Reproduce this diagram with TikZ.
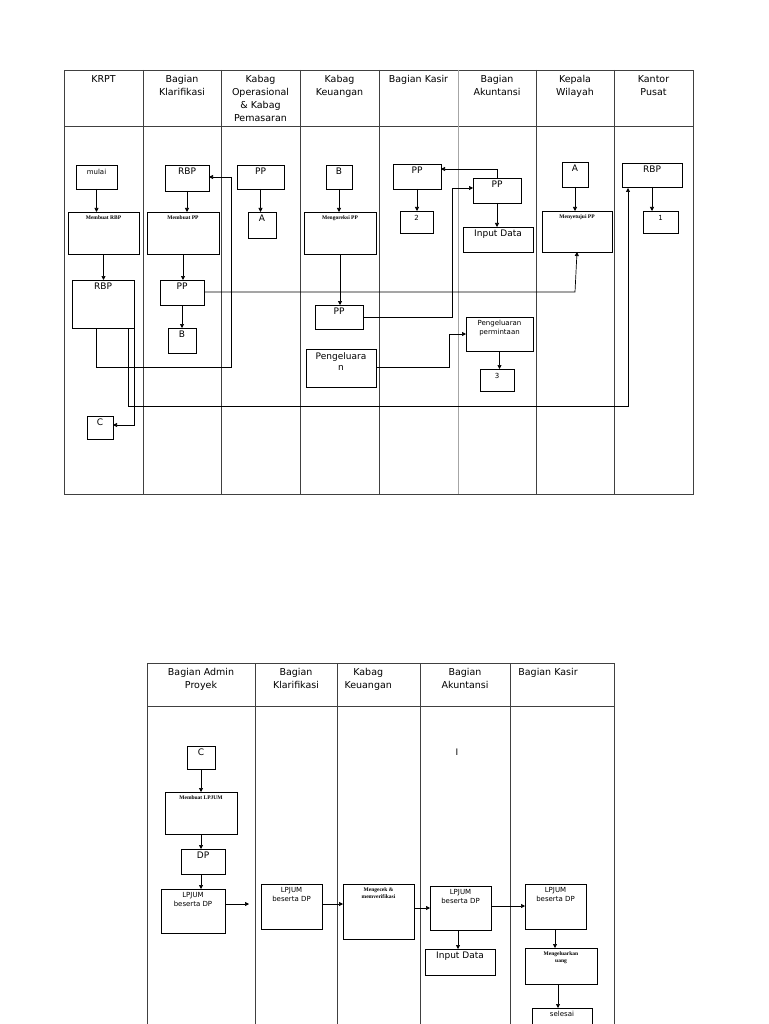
\documentclass[tikz,border=0pt]{standalone}
\usepackage{fontspec}
\setmainfont{DejaVu Sans}
\newfontfamily\serifb{Liberation Serif}
\usetikzlibrary{arrows.meta}
\begin{document}
\begin{tikzpicture}[x=1pt,y=-1pt,
  grid/.style={draw=black!75,line width=0.6pt},
  lgrid/.style={draw=black!35,line width=0.6pt},
  conn/.style={draw=black,line width=0.7pt},
  arr/.style={conn,-{Triangle[length=4pt,width=4pt]}},
  hd/.style={font=\fontsize{9.5}{13}\selectfont,align=center,anchor=north},
  lbl/.style={font=\fontsize{9}{11}\selectfont,align=center,anchor=north,inner sep=1pt},
  slbl/.style={font=\fontsize{7}{9}\selectfont,align=center,anchor=north,inner sep=1pt},
  blbl/.style={font=\serifb\bfseries\fontsize{5.5}{7.5}\selectfont,align=center,anchor=north,inner sep=1pt}]
\useasboundingbox (0,0) rectangle (768,1024);
\fill[white] (0,0) rectangle (768,1024);
% ---- top table
\draw[grid] (64,70) rectangle (693,494);
\draw[grid] (64,126) -- (693,126);
\foreach \x in {143,221,300,379,536,614} \draw[grid] (\x,70) -- (\x,494);
\draw[lgrid] (458,70) -- (458,494);
\node[hd] (h1) at (103.5,72) {KRPT};
\node[hd] (h2) at (182,72) {Bagian\\Klarifikasi};
\node[hd] (h3) at (260.5,72) {Kabag\\Operasional\\\& Kabag\\Pemasaran};
\node[hd] (h4) at (339.5,72) {Kabag\\Keuangan};
\node[hd] (h5) at (418.5,72) {Bagian Kasir};
\node[hd] (h6) at (497,72) {Bagian\\Akuntansi};
\node[hd] (h7) at (575,72) {Kepala\\Wilayah};
\node[hd] (h8) at (653.5,72) {Kantor\\Pusat};
\newcommand\bx[5]{\draw[conn] (#2,#3) rectangle (#4,#5); \coordinate (#1-n) at ({(#2+#4)/2},#3); \coordinate (#1-s) at ({(#2+#4)/2},#5);}
\bx{mulai}{76}{165}{117}{189}\node[slbl] (tmulai) at (mulai-n) [yshift=-3pt] {mulai};
\bx{mrbp}{68}{212}{139}{254}\node[blbl] (tmrbp) at (mrbp-n) [yshift=-2pt] {Membuat RBP};
\bx{rbp1}{72}{280}{134}{328}\node[lbl] (trbp1) at (rbp1-n) [yshift=-2pt] {RBP};
\bx{rbp2}{165}{165}{209}{191}\node[lbl] (trbp2) at (rbp2-n) [yshift=-2pt] {RBP};
\bx{mpp}{147}{212}{219}{254}\node[blbl] (tmpp) at (mpp-n) [yshift=-2pt] {Membuat PP};
\bx{pp1}{160}{280}{204}{305}\node[lbl] (tpp1) at (pp1-n) [yshift=-2pt] {PP};
\bx{b1}{168}{328}{196}{353}\node[lbl] (tb1) at (b1-n) [yshift=-2pt] {B};
\bx{pp2}{237}{165}{284}{189}\node[lbl] (tpp2) at (pp2-n) [yshift=-2pt] {PP};
\bx{a1}{248}{212}{276}{238}\node[lbl] (ta1) at (a1-n) [yshift=-2pt] {A};
\bx{b2}{326}{165}{352}{189}\node[lbl] (tb2) at (b2-n) [yshift=-2pt] {B};
\bx{mkpp}{304}{212}{376}{254}\node[blbl] (tmkpp) at (mkpp-n) [yshift=-2pt] {Mengoreksi PP};
\bx{pp3}{315}{305}{363}{329}\node[lbl] (tpp3) at (pp3-n) [yshift=-2pt] {PP};
\bx{peng}{306}{349}{376}{387}\node[lbl] (tpeng) at (peng-n) [yshift=-2pt] {Pengeluara\\n};
\bx{c1}{87}{416}{113}{439}\node[lbl] (tc1) at (c1-n) [yshift=-2pt] {C};
\bx{pp4}{393}{164}{441}{189}\node[lbl] (tpp4) at (pp4-n) [yshift=-2pt] {PP};
\bx{two}{400}{211}{433}{233}\node[slbl] (ttwo) at (two-n) [yshift=-3pt] {2};
\bx{pp5}{473}{178}{521}{203}\node[lbl] (tpp5) at (pp5-n) [yshift=-2pt] {PP};
\bx{inp1}{463}{227}{533}{252}\node[lbl] (tinp1) at (inp1-n) [yshift=-2pt] {Input Data};
\bx{pper}{466}{317}{533}{351}\node[slbl] (tpper) at (pper-n) [yshift=-2pt] {Pengeluaran\\permintaan};
\bx{three}{480}{369}{514}{391}\node[slbl] (tthree) at (three-n) [yshift=-3pt] {3};
\bx{a2}{562}{162}{588}{187}\node[lbl] (ta2) at (a2-n) [yshift=-2pt] {A};
\bx{mypp}{542}{211}{612}{252}\node[blbl] (tmypp) at (mypp-n) [yshift=-2pt] {Menyetujui PP};
\bx{rbp3}{622}{163}{682}{187}\node[lbl] (trbp3) at (rbp3-n) [yshift=-2pt] {RBP};
\bx{one}{643}{211}{678}{233}\node[slbl] (tone) at (one-n) [yshift=-3pt] {1};
\foreach \p/\q in {mulai/mrbp,mrbp/rbp1,rbp2/mpp,mpp/pp1,pp1/b1,pp2/a1,b2/mkpp,mkpp/pp3,pp4/two,pp5/inp1,pper/three,a2/mypp,rbp3/one}
  \draw[arr] (\p-s) -- (\p-s |- \q-n);
\draw[arr] (96,328) -- (96,367) -- (231,367) -- (231,177) -- (209,177);
\draw[arr] (128,328) -- (128,406) -- (628,406) -- (628,188);
\draw[arr] (134,328) -- (134,425) -- (113,425);
\draw[arr] (204,292) -- (575,292) -- (mypp-s);
\draw[arr] (363,317) -- (452,317) -- (452,188) -- (473,188);
\draw[arr] (376,367) -- (449,367) -- (449,334) -- (466,334);
\draw[arr] (pp5-n) -- (497,169) -- (441,169);
% ---- bottom table
\draw[grid] (147,663) -- (614,663) -- (614,1024);
\draw[grid] (147,663) -- (147,1024);
\draw[grid] (147,706) -- (614,706);
\foreach \x in {255,337,420,510} \draw[grid] (\x,663) -- (\x,1024);
\node[hd] (g1) at (201,665) {Bagian Admin\\Proyek};
\node[hd] (g2) at (296,665) {Bagian\\Klarifikasi};
\node[hd,anchor=north west] (g3) at (341,665) {Kabag\\Keuangan};
\node[hd] (g4) at (465,665) {Bagian\\Akuntansi};
\node[hd] (g5) at (548,665) {Bagian Kasir};
\bx{c2}{187}{746}{215}{769}\node[lbl] (tc2) at (c2-n) [yshift=-2pt] {C};
\bx{mlp}{165}{792}{237}{834}\node[blbl] (tmlp) at (mlp-n) [yshift=-2pt] {Membuat LPJUM};
\bx{dp}{181}{849}{225}{874}\node[lbl] (tdp) at (dp-n) [yshift=-2pt] {DP};
\bx{l1}{161}{889}{225}{933}\node[slbl] (tl1) at (l1-n) [yshift=-2pt] {LPJUM\\beserta DP};
\bx{l2}{261}{884}{322}{929}\node[slbl] (tl2) at (l2-n) [yshift=-2pt] {LPJUM\\beserta DP};
\bx{mc}{343}{884}{414}{939}\node[blbl] (tmc) at (mc-n) [yshift=-2pt] {Mengecek \&\\memverifikasi};
\bx{l3}{430}{886}{491}{930}\node[slbl] (tl3) at (l3-n) [yshift=-2pt] {LPJUM\\beserta DP};
\bx{inp2}{425}{949}{495}{975}\node[lbl] (tinp2) at (inp2-n) [yshift=-2pt] {Input Data};
\bx{l4}{525}{884}{586}{929}\node[slbl] (tl4) at (l4-n) [yshift=-2pt] {LPJUM\\beserta DP};
\bx{mu}{525}{948}{597}{984}\node[blbl] (tmu) at (mu-n) [yshift=-2pt] {Mengeluarkan\\uang};
\bx{sel}{532}{1008}{592}{1030}\node[slbl] (tsel) at (sel-n) [yshift=-2pt] {selesai};
\node[lbl] (ii) at (457,748) {I};
\draw[arr] (201,769) -- (201,792);
\draw[arr] (201,834) -- (201,849);
\draw[arr] (201,874) -- (201,889);
\draw[arr] (458,930) -- (458,949);
\draw[arr] (555,929) -- (555,948);
\draw[arr] (558,984) -- (558,1008);
\draw[arr] (225,904) -- (249,904);
\draw[arr] (322,904) -- (343,904);
\draw[arr] (414,908) -- (430,908);
\draw[arr] (491,906) -- (525,906);
\end{tikzpicture}
\end{document}
